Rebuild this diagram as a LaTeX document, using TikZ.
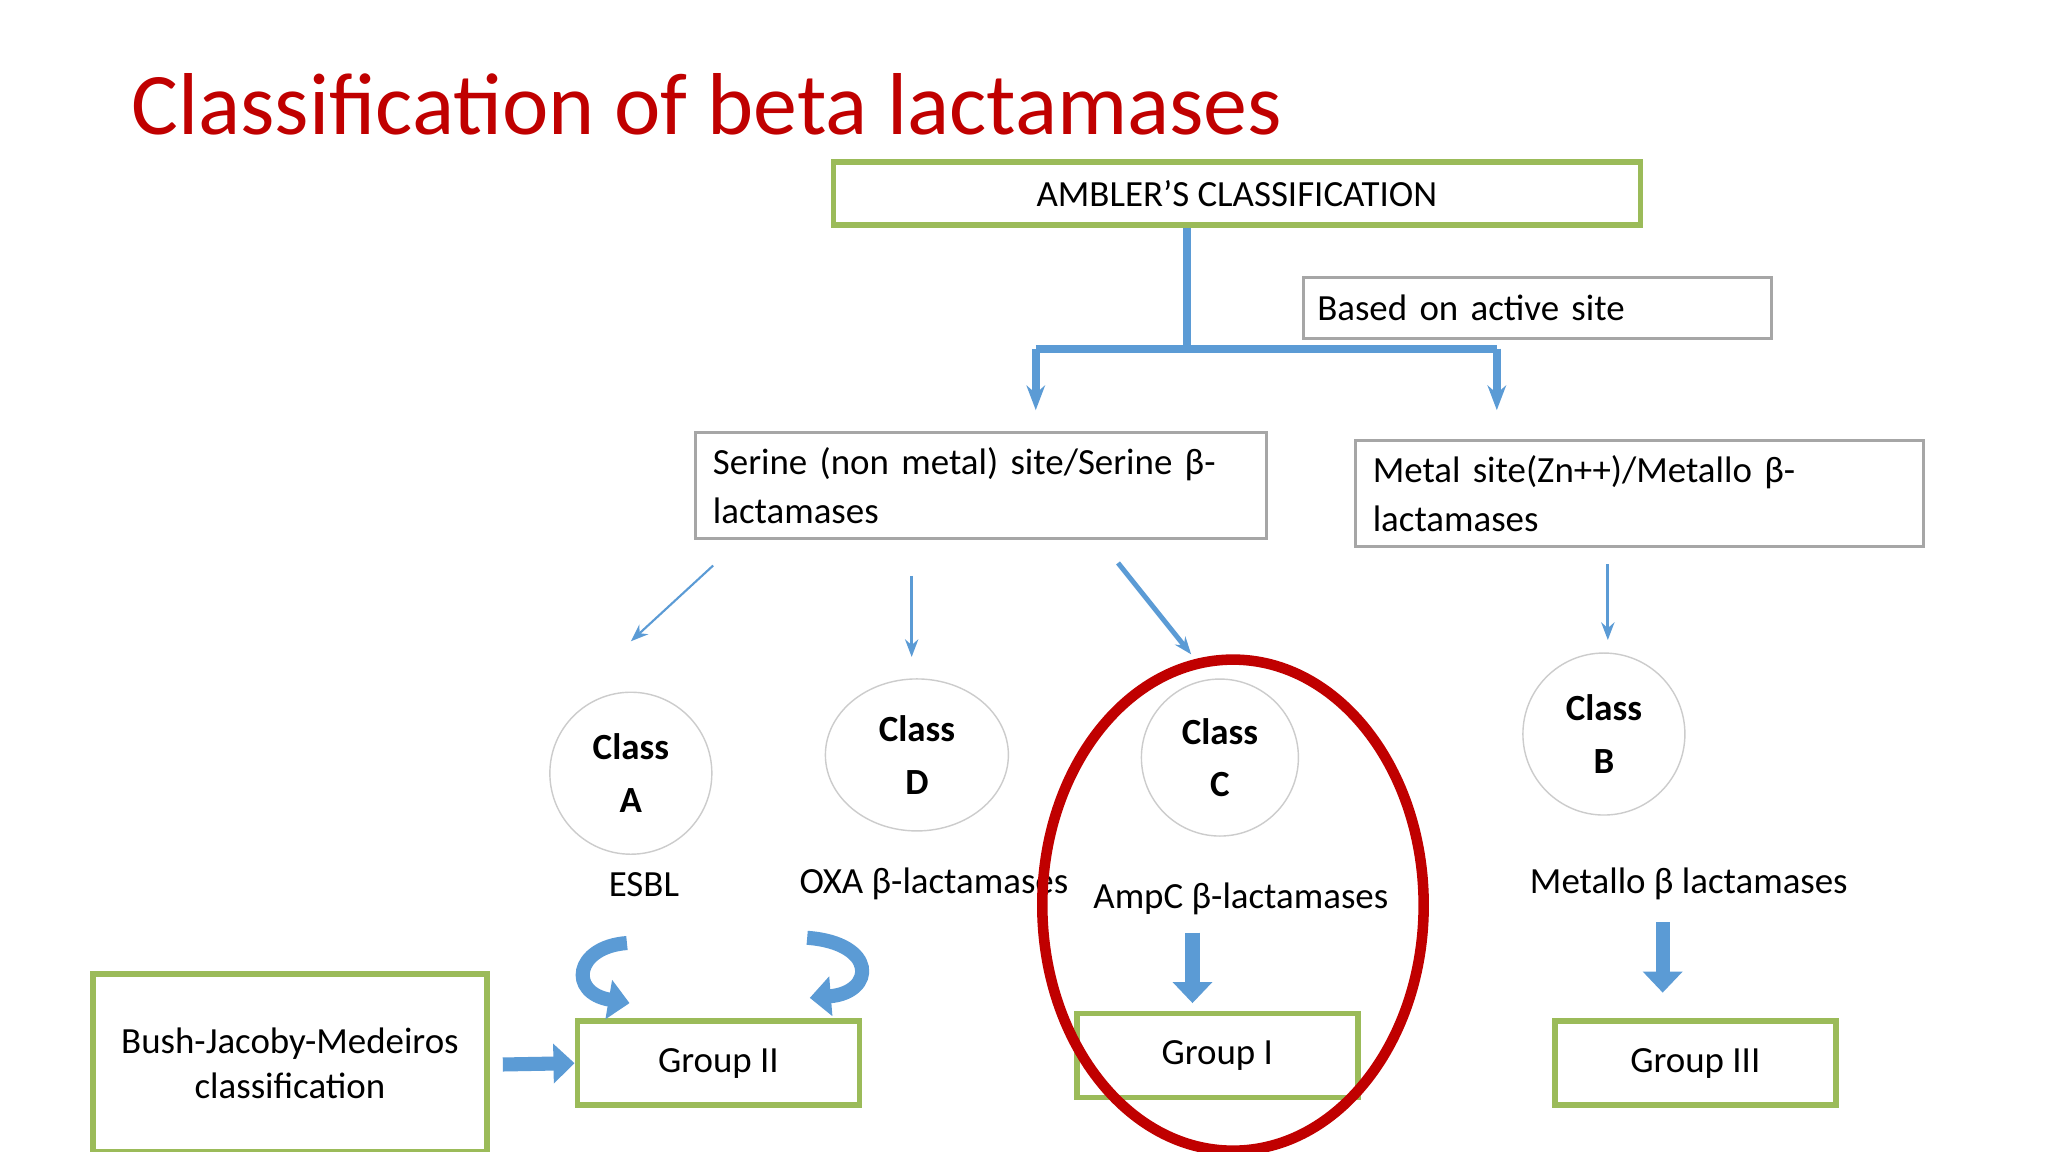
\documentclass[tikz,border=0pt]{standalone}
\usepackage{fontspec}
\setmainfont{Carlito}
\usetikzlibrary{positioning, arrows.meta, shapes.geometric}
\definecolor{boxgreen}{HTML}{9BBB59}
\definecolor{linkblue}{HTML}{5B9BD5}
\definecolor{titlered}{HTML}{C00000}
\tikzset{
    greenbox/.style = {
        draw=boxgreen, line width=1.6pt, minimum width=#1, inner sep=0pt, align=center, font=\fontsize{10.5}{13}\selectfont
    },
    graybox/.style = {
        draw=gray!70, line width=0.8pt, minimum width=#1, minimum height=1.06cm, inner sep=4pt, align=left, text width=#1-10pt, font=\fontsize{10.5}{14}\selectfont
    },
    classnode/.style = {
        draw=gray!40, circle, minimum size=1.6cm, align=center, font=\bfseries\fontsize{10.5}{15}\selectfont
    },
    lbl/.style = {font=\fontsize{10.5}{13}\selectfont},
    thinarrow/.style = {draw=linkblue, line width=0.9pt, -{Stealth[length=5pt]}},
    fatarrow/.style = {draw=linkblue, line width=4pt, -{Triangle[width=11pt,length=6pt]}},
}
\begin{document}
\begin{tikzpicture}[x=0.01306cm, y=-0.01306cm]
        \useasboundingbox[fill=white] (0,0) rectangle (1568,882);

        % Title
        \node[anchor=base west, text=titlered, font=\fontsize{25}{30}\selectfont, inner sep=0pt] (title) at (100,103) {Classification of beta lactamases};

        % Boxes
        \node[greenbox=8.07cm, minimum height=0.63cm] (ambler) at (947,148) {AMBLER'S CLASSIFICATION};
        \node[draw=gray!70, line width=0.8pt, minimum width=4.62cm, minimum height=0.61cm, inner sep=4pt, text width=4.4cm, font=\fontsize{10.5}{13}\selectfont] (active) at (1177,236) {Based on active site};
        \node[graybox=5.71cm] (serine) at (751,372) {Serine (non metal) site/Serine β-lactamases};
        \node[graybox=5.68cm] (metal) at (1255,378) {Metal site(Zn++)/Metallo β-lactamases};

        % Classes
        \node[classnode, minimum size=1.62cm] (classA) at (483,592) {Class\\A};
        \node[classnode, ellipse, minimum width=1.83cm, minimum height=1.52cm] (classD) at (702,578) {Class\\D};
        \node[classnode, minimum size=1.57cm] (classC) at (934,580) {Class\\C};
        \node[classnode, minimum size=1.62cm] (classB) at (1228,562) {Class\\B};

        \node[lbl] (esbl) at (493,677) {ESBL};
        \node[lbl] (oxa) at (715,677) {OXA β-lactamases};
        \node[lbl] (ampc) at (950,688) {AmpC β-lactamases};
        \node[lbl] (mbl) at (1293,677) {Metallo β lactamases};

        % Groups
        \node[greenbox=2.82cm, minimum height=0.84cm] (group2) at (550,814) {Group II};
        \node[greenbox=2.81cm, minimum height=0.84cm] (group1) at (932,808) {Group I};
        \node[greenbox=2.81cm, minimum height=0.84cm] (group3) at (1298,814) {Group III};
        \node[greenbox=3.94cm, minimum height=1.78cm] (bush) at (222,814) {Bush-Jacoby-Medeiros\\classification};

        % Tree from Ambler
        \coordinate (split) at (909,267);
        \coordinate (leftend) at (793,267);
        \coordinate (rightend) at (1146,267);
        \draw[linkblue, line width=2.2pt] (ambler.south -| split) -- (split);
        \draw[linkblue, line width=2.2pt] (leftend) -- (rightend);
        \draw[linkblue, line width=2.2pt, -{Stealth[length=7pt]}] (leftend) -- (793,314);
        \draw[linkblue, line width=2.2pt, -{Stealth[length=7pt]}] (rightend) -- (1146,314);

        % Links to classes
        \coordinate (sA) at (546,433);
        \coordinate (sD) at (698,441);
        \coordinate (sC) at (856,431);
        \coordinate (sB) at (1231,432);
        \draw[thinarrow, line width=0.6pt] (sA) -- (483,491);
        \draw[thinarrow] (sD) -- (698,503);
        \draw[thinarrow, line width=1.4pt] (sC) -- (912,501);
        \draw[thinarrow] (sB) -- (1231,490);

        % Fat arrows
        \draw[fatarrow] (913,714) -- (913,768);
        \draw[fatarrow] (1273,706) -- (1273,760);
        \draw[fatarrow] (385,815) -- (group2.west);
        \draw[fatarrow] (480,722) .. controls (440,725) and (435,760) .. (482,768);
        \draw[fatarrow] (618,718) .. controls (672,722) and (670,760) .. (620,764);

        % Highlight
        \draw[titlered, line width=3pt] (944,693) ellipse [x radius=146, y radius=188];
\end{tikzpicture}
\end{document}
